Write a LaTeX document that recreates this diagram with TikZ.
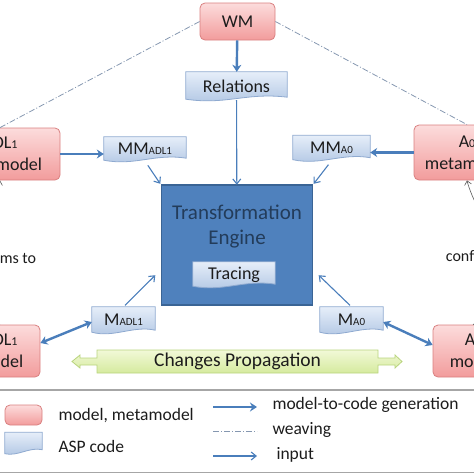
\documentclass[tikz,border=0pt]{standalone}
\usepackage{fontspec}
\setmainfont{Carlito}
\usetikzlibrary{arrows.meta,backgrounds}
\definecolor{pinktop}{HTML}{FCDCDC}
\definecolor{pinkbot}{HTML}{F29C9C}
\definecolor{pinkline}{HTML}{D98080}
\definecolor{bluetop}{HTML}{E6EEF9}
\definecolor{bluebot}{HTML}{AFC5E3}
\definecolor{blueline}{HTML}{8FAAD0}
\definecolor{engblue}{HTML}{4F81BD}
\definecolor{engline}{HTML}{3A6495}
\definecolor{arrowblue}{HTML}{4A7EBB}
\definecolor{weavegray}{HTML}{8597B0}
\definecolor{greentop}{HTML}{F2F9D8}
\definecolor{greenbot}{HTML}{D5EA9E}
\definecolor{greenline}{HTML}{B9D47E}
\definecolor{inkdark}{HTML}{1C1C1C}
\newcommand{\smallidx}[1]{{\fontsize{12}{12}\selectfont #1}}
\newcommand{\codeidx}[1]{{\fontsize{11}{11}\selectfont #1}}
\begin{document}
\begin{tikzpicture}
[x=1pt,y=-1pt,text=inkdark,
  modelbox/.style={rectangle,rounded corners=5pt,draw=pinkline,thick,top color=pinktop,
    bottom color=pinkbot,align=center,inner sep=0pt,font=\fontsize{18}{22}\selectfont},
  codebox/.style={rectangle,inner sep=0pt,font=\fontsize{18}{20}\selectfont},
  codeshape/.style={draw=blueline,thick,top color=bluetop,bottom color=bluebot},
  genarrow/.style={-{Stealth[length=7pt,width=9pt]},line width=2.4pt,draw=arrowblue},
  inarrow/.style={-{Straight Barb[length=5pt,width=8pt]},line width=1.1pt,draw=arrowblue},
  bothgen/.style={{Stealth[length=7pt,width=9pt]}-{Stealth[length=7pt,width=9pt]},line width=2.4pt,draw=arrowblue},
  weave/.style={dash pattern=on 6pt off 2pt on 1pt off 2pt,line width=0.8pt,draw=weavegray},
  conform/.style={-{Straight Barb[length=4pt,width=7pt]},line width=0.6pt,draw=gray!70!black},
  legendtext/.style={anchor=west,font=\fontsize{17.5}{20}\selectfont}]
\useasboundingbox (0,0) rectangle (474,474);
\clip (0,0) rectangle (474,474);
%% models and metamodels
\foreach \nodename/\x/\y/\w/\h/\txt in {
  wm/237.5/21.5/75/37/WM,
  metaadl/0/154/120/52/{ADL\smallidx{1}\\metamodel},
  metaa0/467/152.5/106/55/{A\smallidx{0}\\metamodel},
  modeladl/0/351/80/52/{ADL\smallidx{1}\\model},
  modela0/473/351/80/52/{A\smallidx{0}\\model}} {
  \node (\nodename) at (\x,\y) [modelbox,minimum width=\w,minimum height=\h] {\txt};
}
\node (engine) at (237,245) [rectangle,minimum width=151,minimum height=120,inner sep=0pt] {};
\node (enginetext) at (237,227) [align=center,text=engline!60!black,
  font=\fontsize{21}{25}\selectfont] {Transformation\\Engine};
%% ASP code
\foreach \nodename/\x/\y/\w/\h/\txt in {
  relations/236.5/86/101/28/Relations,
  mmadl/145/149/82/24/{MM\codeidx{ADL1}},
  mma0/331.5/148/77/25/{MM\codeidx{A0}},
  madl/123.5/320/63/26/{M\codeidx{ADL1}},
  ma0/351.5/320/63/26/{M\codeidx{A0}},
  tracing/234/274.5/82/25/Tracing} {
  \node (\nodename) at (\x,\y) [codebox,minimum width=\w,minimum height=\h] {\txt};
}
\node (propagation) at (237.5,361.5) [font=\fontsize{19.5}{22}\selectfont] {Changes Propagation};
\begin{scope}[on background layer]
  \draw[fill=engblue,draw=engline,line width=1.5pt] (engine.north west) rectangle (engine.south east);
  \foreach \docname in {relations,mmadl,mma0,madl,ma0,tracing}
    \path[codeshape] (\docname.north west) -- (\docname.north east) -- ([yshift=3pt]\docname.south east)
      .. controls ([xshift=10pt,yshift=8pt]\docname.south) and ([xshift=-10pt,yshift=-5pt]\docname.south)
      .. ([yshift=1pt]\docname.south west) -- cycle;
  \path[draw=greenline,thick,top color=greentop,bottom color=greenbot]
    (97,350) -- (378,350) -- (378,358) -- (395,358) -- (395,355) -- (402,361.5) -- (395,368) -- (395,365)
    -- (378,365) -- (378,373) -- (97,373) -- (97,365) -- (80,365) -- (80,368) -- (72,361.5) -- (80,355)
    -- (80,358) -- (97,358) -- cycle;
\end{scope}
%% connectors
\draw[weave] (wm.west) -- (metaadl.north);
\draw[weave] (wm.east) -- (metaa0.north);
\draw[genarrow] (wm) -- (relations);
\draw[inarrow] (relations) -- (engine);
\draw[genarrow] (metaadl.east) -- (metaadl.east -| mmadl.west);
\draw[genarrow] (metaa0.west) -- (metaa0.west -| mma0.east);
\draw[inarrow,shorten <=5pt] (mmadl.south) -- ([xshift=-1pt,yshift=1pt]engine.north west);
\draw[inarrow,shorten <=5pt] (mma0.south) -- ([xshift=1pt,yshift=1pt]engine.north east);
\draw[inarrow,shorten <=2pt] (madl.north) -- ([xshift=-6pt,yshift=30pt]engine.south west);
\draw[inarrow,shorten <=2pt] (ma0.north) -- ([xshift=6pt,yshift=30pt]engine.south east);
\draw[bothgen] ([yshift=8pt]modeladl.east) -- ([yshift=-2pt]madl.west);
\draw[bothgen] ([yshift=-2pt]ma0.east) -- ([yshift=6pt]modela0.west);
\draw[conform] (modeladl.north) .. controls (-60,290) and (-8,215) .. (metaadl.south);
\draw[conform] (modela0.north) .. controls (535,290) and (475,215) .. (metaa0.south);
\node (conformleft) at (-3,258) [fill=white,font=\fontsize{16}{18}\selectfont] {conforms to};
\node (conformright) at (485,256) [fill=white,font=\fontsize{16}{18}\selectfont] {conforms to};
%% legend
\draw[gray!70,line width=1.4pt] (0,390) -- (474,390);
\draw[gray!70,line width=1.4pt] (0,472.5) -- (474,472.5);
\node (legmodel) at (23.5,415) [modelbox,minimum width=37,minimum height=20] {};
\node (legcode) at (23.5,443) [codebox,minimum width=37,minimum height=21] {};
\begin{scope}[on background layer]
  \path[codeshape] (legcode.north west) -- (legcode.north east) -- ([yshift=4pt]legcode.south east)
    .. controls ([xshift=6pt,yshift=7pt]legcode.south) and ([xshift=-6pt,yshift=-3pt]legcode.south)
    .. (legcode.south west) -- cycle;
\end{scope}
\node (legmodeltext) at (55,416) [legendtext] {model, metamodel};
\node (legcodetext) at (55,446) [legendtext] {ASP code};
\foreach \cname/\yy in {gen/407,weaving/431,input/456} {
  \coordinate (start\cname) at (213,\yy);
  \coordinate (end\cname) at (257,\yy);
}
\draw[genarrow,line width=1.8pt] (startgen) -- (endgen);
\draw[weave] (startweaving) -- (endweaving);
\draw[inarrow] (startinput) -- (endinput);
\node (legentext) at (269,405) [legendtext] {model-to-code generation};
\node (legweavetext) at (269,430) [legendtext] {weaving};
\node (leginputtext) at (273,455) [legendtext] {input};
\end{tikzpicture}
\end{document}
